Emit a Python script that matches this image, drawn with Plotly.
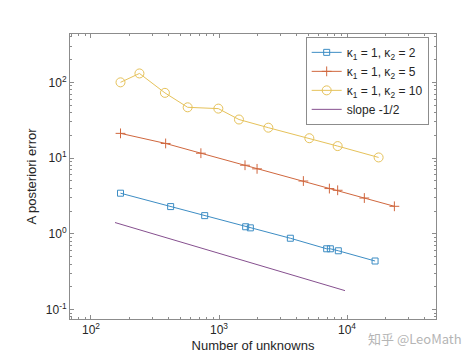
import plotly.graph_objects as go

# Data
x_k2 = [170, 419, 773, 1615, 1757, 3608, 6935, 7410, 8550, 16560]
y_k2 = [3.44, 2.29, 1.74, 1.24, 1.20, 0.875, 0.635, 0.635, 0.598, 0.438]

x_k5 = [170, 383, 722, 1596, 1982, 4560, 7280, 8450, 13650, 23440]
y_k5 = [21.2, 15.6, 11.6, 8.05, 7.21, 4.98, 3.96, 3.76, 2.97, 2.31]

x_k10 = [170, 239, 378, 569, 988, 1432, 2428, 5076, 8450, 17650]
y_k10 = [100, 131, 72.6, 46.8, 45.0, 32.3, 25.2, 18.3, 14.4, 10.2]

slope_x = [154, 9640]
slope_y = [1.41, 0.178]

names = ["κ<sub>1</sub> = 1, κ<sub>2</sub> = 2",
         "κ<sub>1</sub> = 1, κ<sub>2</sub> = 5",
         "κ<sub>1</sub> = 1, κ<sub>2</sub> = 10",
         "slope -1/2"]

xtick_vals = [100, 1000, 10000]
xtick_text = ["10<sup>2</sup>", "10<sup>3</sup>", "10<sup>4</sup>"]
ytick_vals = [0.1, 1, 10, 100]
ytick_text = ["10<sup>-1</sup>", "10<sup>0</sup>", "10<sup>1</sup>", "10<sup>2</sup>"]

x_minor = [m * 10 ** e for e in range(1, 5) for m in range(2, 10)]
y_minor = [m * 10 ** e for e in range(-2, 3) for m in range(2, 10)]

blue = "#3d8dc4"
red = "#d0673e"
yellow = "#e6c25a"
purple = "#86508f"

fig = go.Figure()
fig.add_trace(go.Scatter(x=x_k2, y=y_k2, name=names[0], mode="lines+markers",
                         line=dict(color=blue, width=1),
                         marker=dict(symbol="square-open", size=6, color=blue, line=dict(width=1))))
fig.add_trace(go.Scatter(x=x_k5, y=y_k5, name=names[1], mode="lines+markers",
                         line=dict(color=red, width=1),
                         marker=dict(symbol="cross-thin-open", size=7, color=red, line=dict(width=1, color=red))))
fig.add_trace(go.Scatter(x=x_k10, y=y_k10, name=names[2], mode="lines+markers",
                         line=dict(color=yellow, width=1),
                         marker=dict(symbol="circle-open", size=9, color=yellow, line=dict(width=1))))
fig.add_trace(go.Scatter(x=slope_x, y=slope_y, name=names[3], mode="lines",
                         line=dict(color=purple, width=1)))

axis_common = dict(
    showline=True, linecolor="#8c8c8c", linewidth=1, mirror="allticks",
    ticks="inside", ticklen=4, tickcolor="#8c8c8c",
    showgrid=False, zeroline=False,
    tickfont=dict(family="Liberation Sans, Arial", size=12, color="#262626"),
)

fig.update_xaxes(type="log", range=[1.836, 4.695], tickmode="array",
                 tickvals=xtick_vals, ticktext=xtick_text,
                 minor=dict(ticks="inside", ticklen=2, tickcolor="#8c8c8c", showgrid=False,
                            tickmode="array", tickvals=x_minor),
                 title=dict(text="Number of unknowns", standoff=4,
                            font=dict(family="Liberation Sans, Arial", size=13, color="#262626")),
                 **axis_common)
fig.update_yaxes(type="log", range=[-1.124, 2.638], tickmode="array",
                 tickvals=ytick_vals, ticktext=ytick_text,
                 minor=dict(ticks="inside", ticklen=2, tickcolor="#8c8c8c", showgrid=False,
                            tickmode="array", tickvals=y_minor),
                 title=dict(text="A posteriori error", standoff=6,
                            font=dict(family="Liberation Sans, Arial", size=13, color="#262626")),
                 **axis_common)

fig.add_annotation(text="知乎 @LeoMath", xref="paper", yref="paper", x=0.81, y=-0.069,
                   xanchor="left", yanchor="middle", showarrow=False,
                   font=dict(family="Noto Sans CJK SC", size=13, color="#b5b5b5"))

fig.update_layout(
    width=474, height=355,
    margin=dict(l=62, r=46, t=26, b=40),
    plot_bgcolor="white", paper_bgcolor="white",
    showlegend=True,
    legend=dict(x=0.98, y=0.99, xanchor="right", yanchor="top",
                bgcolor="white", bordercolor="#8c8c8c", borderwidth=1,
                font=dict(family="Liberation Sans, Arial", size=12, color="#262626"),
                tracegroupgap=0, itemwidth=30),
)

fig.write_html("out.html")
